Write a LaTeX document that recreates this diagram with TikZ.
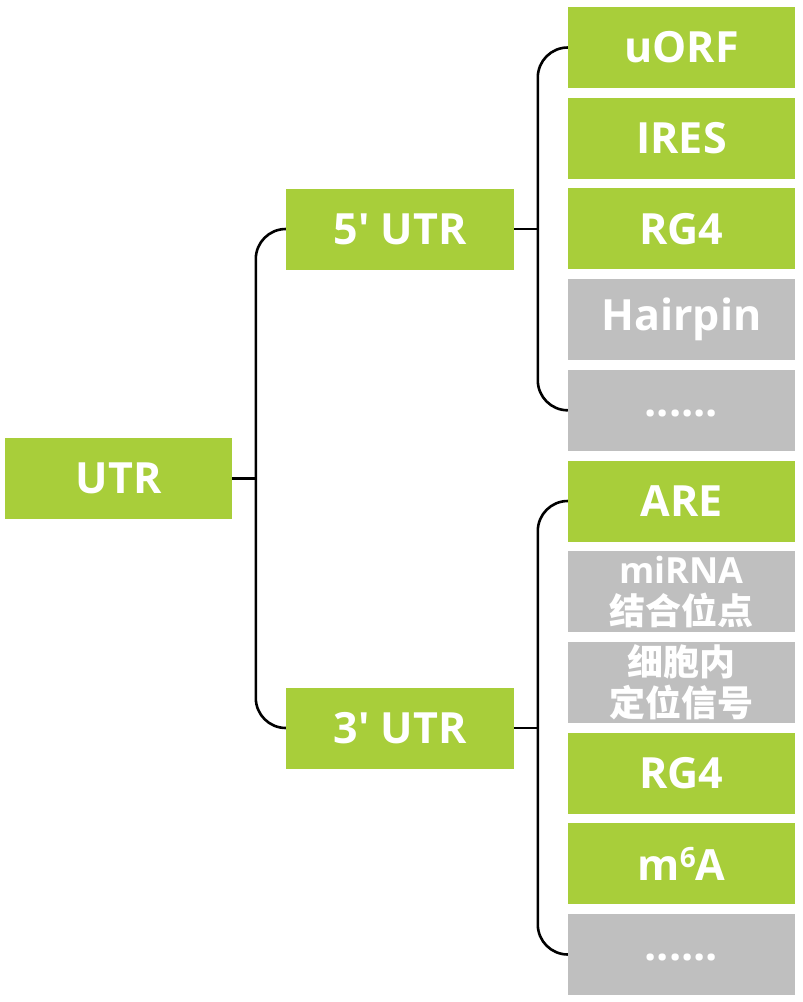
\documentclass[tikz,border=0pt]{standalone}
\usepackage{fontspec}
\setmainfont{Open Sans}[Ligatures=TeXOff]
\newfontfamily\cjk{Noto Sans CJK SC}
\definecolor{leaf}{HTML}{A8CE3A}
\definecolor{stone}{HTML}{BFBFBF}
\newcommand{\zh}[1]{{\cjk\fontsize{36}{40}\selectfont\bfseries #1}}
\tikzset{
  box/.style={rectangle, minimum width=227pt, minimum height=81pt, inner sep=0pt,
    text=white, font=\fontsize{43}{50}\selectfont\bfseries, align=center},
  gbox/.style={box, fill=leaf},
  sbox/.style={box, fill=stone},
  twoline/.style={font=\fontsize{36}{41}\selectfont\bfseries},
  link/.style={draw=black, line width=2.6pt},
  brace/.style={link, rounded corners=30pt}
}
\begin{document}
\begin{tikzpicture}[x=1pt,y=-1pt]
\useasboundingbox (0,0) rectangle (803,1002);
% left column
\node[gbox] (utr) at (118.5,478.5) {UTR};
\node[gbox, minimum width=228pt] (u5) at (400,229) {5' UTR};
\node[gbox, minimum width=228pt] (u3) at (400,728) {3' UTR};
% right column
\node[gbox] (r1) at (681.5,47.5) {uORF};
\node[gbox] (r2) at (681.5,138.2) {IRES};
\node[gbox] (r3) at (681.5,228.9) {RG4};
\node[sbox] (r4) at (681.5,319.6) {Hairpin};
\node[sbox] (r5) at (681.5,410.3) {\raisebox{-13pt}{......}};
\node[gbox] (r6) at (681.5,501.0) {ARE};
\node[sbox, twoline] (r7) at (681.5,591.7) {miRNA\\\zh{结合位点}};
\node[sbox, twoline] (r8) at (681.5,682.4) {\zh{细胞内}\\\zh{定位信号}};
\node[gbox] (r9) at (681.5,773.1) {RG4};
\node[gbox] (r10) at (681.5,863.8) {m\raisebox{0.32em}{\fontsize{28}{30}\selectfont 6}A};
\node[sbox] (r11) at (681.5,954.5) {\raisebox{-13pt}{......}};
% connectors
\coordinate (lb) at (256,478.5);
\draw[link] (utr.east) -- (lb);
\draw[brace] (u5.west) -- ++(-30,0) |- (u3.west);
\coordinate (rb1) at (538,229);
\draw[link] (u5.east) -- (rb1);
\draw[brace] (r1.west) -- ++(-30,0) |- (r5.west);
\coordinate (rb2) at (538,728);
\draw[link] (u3.east) -- (rb2);
\draw[brace] (r6.west) -- ++(-30,0) |- (r11.west);
\end{tikzpicture}
\end{document}
